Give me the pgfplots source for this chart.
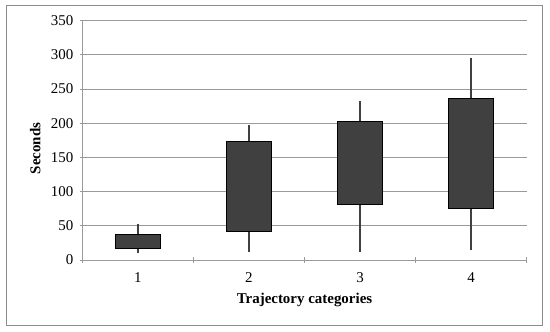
\documentclass[border=0pt]{standalone}
\usepackage{fontspec}
\setmainfont{Liberation Serif}
\usepackage{pgfplots}
\usepgfplotslibrary{statistics}
\pgfplotsset{compat=1.18}
\definecolor{boxfill}{HTML}{404040}
\definecolor{gridc}{HTML}{9A9A9A}
\definecolor{framec}{HTML}{8C8C8C}
\begin{document}
\begin{tikzpicture}
\begin{axis}[
  scale only axis,
  width=444.4bp, height=239.3bp,
  xmin=0.5, xmax=4.5,
  ymin=0, ymax=350,
  ytick={0,50,...,350},
  xtick={1,2,3,4},
  xticklabels={1,2,3,4},
  minor xtick={0.5,1.5,2.5,3.5,4.5},
  major x tick style={draw=none},
  tick align=outside,
  major tick length=5bp,
  minor tick length=5bp,
  tick style={gridc, line width=0.8bp},
  axis lines=left,
  axis line style={-, gridc, line width=0.9bp},
  ymajorgrids,
  grid style={gridc, line width=0.9bp},
  /pgf/number format/assume math mode=true,
  ticklabel style={font=\fontsize{15}{17}\selectfont},
  yticklabel style={xshift=-3bp},
  xticklabel style={anchor=base, yshift=-20bp},
  xlabel={\textbf{Trajectory categories}},
  ylabel={\textbf{Seconds}},
  every axis x label/.style={at={(axis description cs:0.5,0)}, anchor=base, yshift=-43bp, font=\fontsize{15}{17}\selectfont},
  every axis y label/.style={at={(axis description cs:0,0.466)}, rotate=90, anchor=center, yshift=47bp, font=\fontsize{15}{17}\selectfont},
  boxplot/draw direction=y,
  boxplot/box extend=0.4,
  boxplot/whisker extend=0,
  boxplot/every box/.style={fill=boxfill, draw=black, line width=1bp},
  boxplot/every whisker/.style={draw=boxfill, line width=1.6bp},
  boxplot/every median/.style={draw=black, line width=1bp},
]
\addplot+[mark=none, boxplot prepared={draw position=1, lower whisker=10.7, lower quartile=17.5, median=17.5, upper quartile=37.5, upper whisker=53}] coordinates {};
\addplot+[mark=none, boxplot prepared={draw position=2, lower whisker=12, lower quartile=41, median=41, upper quartile=173, upper whisker=198}] coordinates {};
\addplot+[mark=none, boxplot prepared={draw position=3, lower whisker=11, lower quartile=81, median=81, upper quartile=203, upper whisker=233}] coordinates {};
\addplot+[mark=none, boxplot prepared={draw position=4, lower whisker=14, lower quartile=76, median=76, upper quartile=236, upper whisker=295}] coordinates {};
\end{axis}
\draw[framec, line width=0.9bp] ([shift={(-75.6bp,-65bp)}]current axis.south west) rectangle ([shift={(16bp,15.7bp)}]current axis.north east);
\useasboundingbox ([shift={(-82.3bp,-72bp)}]current axis.south west) rectangle ([shift={(23.3bp,20.7bp)}]current axis.north east);
\end{tikzpicture}
\end{document}
